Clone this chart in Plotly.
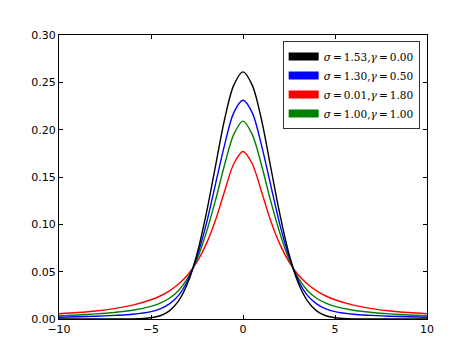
import plotly.graph_objects as go

x_vals = [-10, -9, -8, -7, -6, -5, -4.5, -4, -3.5, -3, -2.5, -2, -1.5, -1, -0.5, 0,
          0.5, 1, 1.5, 2, 2.5, 3, 3.5, 4, 4.5, 5, 6, 7, 8, 9, 10]

y_black = [0.0, 0.0, 0.0, 0.0, 0.0001, 0.0013, 0.0034, 0.0086, 0.0191, 0.0382, 0.0687, 0.111, 0.161, 0.211, 0.247, 0.261,
           0.247, 0.211, 0.161, 0.111, 0.0687, 0.0382, 0.0191, 0.0086, 0.0034, 0.0013, 0.0001, 0.0, 0.0, 0.0, 0.0]
y_blue = [0.0018, 0.0023, 0.0029, 0.0038, 0.0050, 0.0078, 0.0107, 0.016, 0.025, 0.041, 0.066, 0.100, 0.142, 0.184, 0.218, 0.231,
          0.218, 0.184, 0.142, 0.100, 0.066, 0.041, 0.025, 0.016, 0.0107, 0.0078, 0.0050, 0.0038, 0.0029, 0.0023, 0.0018]
y_red = [0.0055, 0.0068, 0.0085, 0.0110, 0.0146, 0.0203, 0.0243, 0.0298, 0.0370, 0.0468, 0.0604, 0.0791, 0.104, 0.135, 0.164, 0.177,
         0.164, 0.135, 0.104, 0.0791, 0.0604, 0.0468, 0.0370, 0.0298, 0.0243, 0.0203, 0.0146, 0.0110, 0.0085, 0.0068, 0.0055]
y_green = [0.0034, 0.0043, 0.0054, 0.0069, 0.0092, 0.0133, 0.0167, 0.0219, 0.0302, 0.0435, 0.063, 0.091, 0.125, 0.163, 0.195, 0.209,
           0.195, 0.163, 0.125, 0.091, 0.063, 0.0435, 0.0302, 0.0219, 0.0167, 0.0133, 0.0092, 0.0069, 0.0054, 0.0043, 0.0034]

labels = ["<i>σ</i>\u2009=\u20091.53,<i>γ</i>\u2009=\u20090.00",
          "<i>σ</i>\u2009=\u20091.30,<i>γ</i>\u2009=\u20090.50",
          "<i>σ</i>\u2009=\u20090.01,<i>γ</i>\u2009=\u20091.80",
          "<i>σ</i>\u2009=\u20091.00,<i>γ</i>\u2009=\u20091.00"]
colors = ["black", "blue", "red", "green"]
series = [y_black, y_blue, y_red, y_green]

x_ticks = [-10, -5, 0, 5, 10]
y_ticks = [0.0, 0.05, 0.10, 0.15, 0.20, 0.25, 0.30]

fig = go.Figure()
for i in [2, 3, 1, 0]:
    fig.add_trace(go.Scatter(x=x_vals, y=series[i], mode="lines",
                             line=dict(color=colors[i], width=1.4, shape="spline", smoothing=0.9),
                             showlegend=False, hoverinfo="skip"))
for i in range(4):
    fig.add_trace(go.Scatter(x=[None], y=[None], mode="lines", name=labels[i],
                             line=dict(color=colors[i], width=8)))

axis_common = dict(showline=True, linecolor="black", linewidth=1, mirror="allticks",
                   ticks="inside", ticklen=4, tickcolor="black", showgrid=False, zeroline=False,
                   tickfont=dict(family="DejaVu Sans", size=11, color="black"))
fig.update_xaxes(range=[-10, 10], tickvals=x_ticks, ticktext=["\u221210", "\u22125", "0", "5", "10"],
                 **axis_common)
fig.update_yaxes(range=[0, 0.30], tickvals=y_ticks, tickformat=".2f", **axis_common)

fig.update_layout(
    width=474, height=355,
    margin=dict(l=51, r=55, t=27, b=44),
    paper_bgcolor="white", plot_bgcolor="white",
    legend=dict(x=0.98, y=0.979, xanchor="right", yanchor="top",
                bgcolor="white", bordercolor="#333333", borderwidth=1,
                font=dict(family="DejaVu Serif", size=10.5, color="black"),
                itemwidth=30, tracegroupgap=0),
)

fig.write_html("out.html")
